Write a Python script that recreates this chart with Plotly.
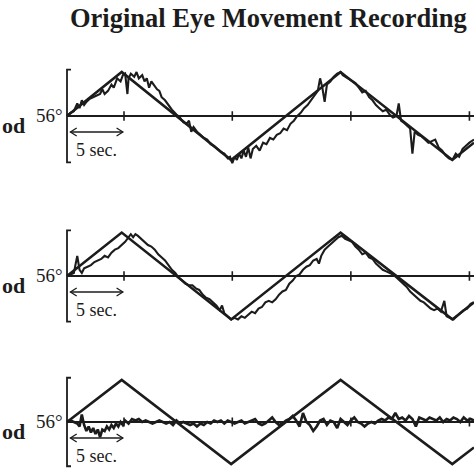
import plotly.graph_objects as go

# ---------------- data ----------------
TITLE = "Original Eye Movement Recording"
PANEL_LABEL = "od"
SCALE_LABEL = "56°"
TIME_LABEL = "5 sec."
SCALE_DEG = 29.5          # half-height of the scale bracket (deg)
TIME_BAR_SEC = [0.3, 4.9]  # extent of the "5 sec." arrow (s)

# stimulus (target) triangle wave: time (s), position (deg)
STIM_T = [0.0, 4.8, 14.4, 24.0, 33.8, 35.7]
STIM_Y = [0, 28, -28, 28, -28, -17]

# tick marks on the time axis (s)
TICK_T = [5.0, 14.5, 24.9, 35.3]

# eye recording, panel 1
EYE1_T = [0.0, 0.3, 0.6, 0.9, 1.1, 1.3, 1.5, 1.7, 2.0, 2.3, 2.6, 2.9, 3.1, 3.3, 3.6, 3.9,
          4.1, 4.4, 4.7, 4.9, 5.1, 5.3, 5.4, 5.6, 5.9, 6.1, 6.3, 6.6, 6.8, 7.0, 7.2, 7.4,
          7.6, 7.9, 8.1, 8.3, 8.6, 8.9, 9.2, 9.6, 9.9, 10.2, 10.5, 10.7, 10.9, 11.1, 11.4,
          11.7, 12.0, 12.3, 12.6, 12.9, 13.2, 13.5, 13.8, 14.1, 14.3, 14.5, 14.7, 14.9,
          15.1, 15.3, 15.5, 15.7, 15.9, 16.1, 16.3, 16.6, 16.9, 17.2, 17.5, 17.8, 18.1,
          18.4, 18.7, 19.0, 19.3, 19.6, 19.9, 20.2, 20.5, 20.8, 21.1, 21.4, 21.7, 22.0,
          22.2, 22.4, 22.6, 22.8, 23.1, 23.4, 23.7, 24.0, 24.2, 24.4, 24.7, 25.0, 25.3,
          25.6, 25.9, 26.2, 26.5, 26.8, 27.1, 27.4, 27.7, 28.0, 28.3, 28.6, 28.9, 29.1,
          29.3, 29.5, 29.8, 30.1, 30.3, 30.5, 30.8, 31.1, 31.4, 31.7, 32.0, 32.3, 32.6,
          32.9, 33.2, 33.5, 33.8, 34.1, 34.4, 34.7, 35.0, 35.3, 35.7]
EYE1_Y = [0, 2, 3, 8, 5, 10, 7, 9, 11, 12, 13, 14, 17, 14, 16, 20,
          18, 24, 22, 26, 27, 14, 24, 27, 25, 28, 24, 26, 22, 24, 18, 22,
          20, 17, 16, 12, 10, 7, 4, 1, -1, -4, -5, -3, -10, -7, -10,
          -12, -14, -15, -18, -19, -21, -23, -24, -27, -26, -30, -26, -28,
          -24, -27, -22, -26, -20, -27, -21, -19, -22, -17, -18, -14, -15,
          -12, -11, -8, -9, -5, -3, 0, 2, 5, 7, 10, 13, 16,
          24, 18, 9, 20, 22, 25, 27, 28, 26, 25, 24, 22, 21,
          18, 15, 16, 12, 10, 7, 5, 3, 4, 1, -1, 0, 8,
          -3, -4, -6, -8, -24, -10, -12, -13, -15, -17, -16, -15, -20,
          -22, -25, -27, -28, -24, -26, -21, -19, -17, -15]

# eye recording, panel 2
EYE2_T = [0.0, 0.3, 0.6, 0.9, 1.1, 1.3, 1.5, 1.8, 2.1, 2.4, 2.7, 3.0, 3.3, 3.6, 3.9,
          4.2, 4.5, 4.8, 5.1, 5.4, 5.6, 5.8, 6.0, 6.2, 6.5, 6.8, 7.1, 7.4, 7.7, 8.0,
          8.3, 8.6, 8.9, 9.2, 9.5, 9.8, 10.1, 10.4, 10.7, 11.0, 11.3, 11.6, 11.9, 12.2,
          12.5, 12.8, 13.1, 13.4, 13.6, 13.8, 14.1, 14.4, 14.7, 15.0, 15.3, 15.6, 15.9,
          16.2, 16.5, 16.8, 17.1, 17.4, 17.7, 18.0, 18.3, 18.6, 18.9, 19.2, 19.5, 19.8,
          20.1, 20.4, 20.7, 21.0, 21.3, 21.6, 21.9, 22.1, 22.3, 22.6, 22.9, 23.2, 23.5,
          23.8, 24.1, 24.4, 24.7, 25.0, 25.3, 25.6, 25.9, 26.2, 26.5, 26.8, 27.1, 27.4,
          27.7, 28.0, 28.3, 28.6, 28.9, 29.2, 29.5, 29.8, 30.1, 30.4, 30.7, 31.0, 31.3,
          31.6, 31.9, 32.2, 32.5, 32.8, 33.1, 33.3, 33.6, 33.9, 34.2, 34.5, 34.8, 35.1,
          35.4, 35.7]
EYE2_Y = [0, 1, 2, 13, 4, 2, 5, 6, 7, 9, 10, 11, 13, 12, 15,
          17, 18, 20, 22, 25, 27, 25, 27, 26, 24, 22, 20, 19, 17, 14,
          12, 10, 7, 4, 2, -1, -3, -5, -6, -6, -8, -9, -12, -14,
          -15, -17, -19, -22, -19, -24, -26, -28, -27, -28, -26, -27, -25,
          -23, -24, -21, -20, -17, -16, -17, -15, -12, -10, -9, -5, -3,
          0, 1, 4, 6, 7, 10, 11, 8, 13, 17, 19, 21, 23,
          25, 26, 24, 23, 22, 19, 17, 14, 15, 12, 11, 8, 6,
          4, 3, 2, 1, -1, -3, -5, -7, -10, -12, -14, -16, -17,
          -19, -21, -22, -21, -23, -16, -26, -27, -28, -26, -24, -22, -21,
          -18, -17]

# eye recording, panel 3
EYE3_T = [0.0, 0.3, 0.6, 0.9, 1.1, 1.3, 1.5, 1.7, 1.9, 2.1, 2.3, 2.5, 2.7, 2.9, 3.1,
          3.3, 3.5, 3.7, 3.9, 4.1, 4.3, 4.5, 4.7, 4.9, 5.1, 5.4, 5.7, 6.0, 6.3, 6.6,
          6.9, 7.2, 7.5, 7.8, 8.1, 8.4, 8.7, 9.0, 9.3, 9.6, 9.9, 10.2, 10.5, 10.8,
          11.1, 11.4, 11.7, 12.0, 12.3, 12.6, 12.9, 13.2, 13.5, 13.8, 14.1, 14.4, 14.7,
          15.0, 15.3, 15.6, 15.9, 16.2, 16.5, 16.8, 17.1, 17.4, 17.7, 18.0, 18.3, 18.6,
          18.9, 19.2, 19.5, 19.8, 20.1, 20.4, 20.7, 21.0, 21.3, 21.6, 21.9, 22.2, 22.5,
          22.8, 23.1, 23.4, 23.7, 24.0, 24.3, 24.6, 24.9, 25.2, 25.5, 25.8, 26.1, 26.4,
          26.7, 27.0, 27.3, 27.6, 27.9, 28.2, 28.5, 28.8, 29.1, 29.4, 29.7, 30.0, 30.3,
          30.6, 30.9, 31.2, 31.5, 31.8, 32.1, 32.4, 32.7, 33.0, 33.3, 33.6, 33.9, 34.2,
          34.5, 34.8, 35.1, 35.4, 35.7]
EYE3_Y = [0, 1, 0, -1, -3, 5, -2, -6, -3, -7, -4, -8, -5, -10, -5,
          -6, -3, -5, -2, -4, -1, -3, 0, -2, 1, -1, 2, 1, 2, 0,
          1, 0, -1, 0, 1, 0, -1, 0, -2, 1, -1, 0, -1, -2,
          -1, -3, -1, -2, 0, -1, 1, 0, 1, -1, 1, 0, -1,
          0, 1, -1, 0, 1, 2, -1, -2, -1, 1, 3, 0, -2,
          -1, 1, 2, 4, 1, -3, 6, 0, -2, -6, -3, 1, 2,
          -2, 1, 0, -4, 2, 0, -2, 1, 3, 0, -1, -3, -1,
          0, -1, 1, 2, 1, 3, 2, 6, 2, 3, 1, 4, 2,
          -3, 3, 2, 1, 3, 2, 1, 3, 0, 2, 1, 3, 2,
          0, 3, 1, 2, 1]

# ---------------- layout helpers ----------------
W = H = 474
LEFT_PX = 67.0
PX_PER_SEC = 11.4
Y_HALF = 34.0
# (eye t, eye y, baseline pixel, px per degree)
PANELS = [
    (EYE1_T, EYE1_Y, 116.0, 1.57),
    (EYE2_T, EYE2_Y, 276.0, 1.55),
    (EYE3_T, EYE3_Y, 422.0, 1.50),
]
INK = "#1c1c1c"
FONT = "Liberation Serif"

x_min = -LEFT_PX / PX_PER_SEC
x_max = (W - LEFT_PX) / PX_PER_SEC

fig = go.Figure()
layout = dict(
    width=W, height=H, margin=dict(l=0, r=0, t=0, b=0),
    paper_bgcolor="white", plot_bgcolor="white", showlegend=False,
    xaxis=dict(range=[x_min, x_max], domain=[0, 1], visible=False, fixedrange=True),
)
annotations = []

for i, (et, ey, base_px, s) in enumerate(PANELS):
    yname = "y" if i == 0 else f"y{i+1}"
    ykey = "yaxis" if i == 0 else f"yaxis{i+1}"
    top = base_px - Y_HALF * s
    bot = base_px + Y_HALF * s
    layout[ykey] = dict(range=[-Y_HALF, Y_HALF], domain=[1 - bot / H, 1 - top / H],
                        visible=False, anchor="x", fixedrange=True)

    serif = 0.35
    # scale bracket
    fig.add_trace(go.Scatter(
        x=[serif, 0, 0, serif], y=[SCALE_DEG, SCALE_DEG, -SCALE_DEG, -SCALE_DEG],
        mode="lines", line=dict(color=INK, width=1.8), xaxis="x", yaxis=yname,
        hoverinfo="skip"))
    # baseline
    fig.add_trace(go.Scatter(x=[0, x_max], y=[0, 0], mode="lines",
                             line=dict(color=INK, width=1.8), xaxis="x", yaxis=yname,
                             hoverinfo="skip"))
    # ticks
    tick_h = 3.0
    tx, ty = [], []
    for t in TICK_T:
        tx += [t, t, None]
        ty += [-tick_h, tick_h, None]
    fig.add_trace(go.Scatter(x=tx, y=ty, mode="lines", line=dict(color=INK, width=1.6),
                             xaxis="x", yaxis=yname, hoverinfo="skip"))
    # stimulus
    fig.add_trace(go.Scatter(x=STIM_T, y=STIM_Y, mode="lines",
                             line=dict(color=INK, width=2.6), xaxis="x", yaxis=yname,
                             hoverinfo="skip"))
    # eye recording
    fig.add_trace(go.Scatter(x=et, y=ey, mode="lines",
                             line=dict(color=INK, width=2.1 if i < 2 else 2.6),
                             xaxis="x", yaxis=yname, hoverinfo="skip"))
    # 5 sec arrow
    ay = -16.0 / s
    a0, a1 = TIME_BAR_SEC
    hl, hh = 0.55, 4.0 / s
    fig.add_trace(go.Scatter(
        x=[a0 + hl, a0, a0 + hl, None, a0, a1, None, a1 - hl, a1, a1 - hl],
        y=[ay + hh, ay, ay - hh, None, ay, ay, None, ay + hh, ay, ay - hh],
        mode="lines", line=dict(color=INK, width=1.3), xaxis="x", yaxis=yname,
        hoverinfo="skip"))

    annotations.append(dict(x=-0.2, y=0.5, xref="x", yref=yname, text=SCALE_LABEL,
                            showarrow=False, xanchor="right", yanchor="middle",
                            font=dict(family=FONT, size=19, color=INK)))
    annotations.append(dict(x=0.6, y=-34.0 / s, xref="x", yref=yname, text=TIME_LABEL,
                            showarrow=False, xanchor="left", yanchor="middle",
                            font=dict(family=FONT, size=18, color=INK)))
    annotations.append(dict(x=0.0, y=-9.0 / s, xref="paper", yref=yname,
                            text=f"<b>{PANEL_LABEL}</b>", showarrow=False,
                            xanchor="left", yanchor="middle",
                            font=dict(family=FONT, size=22, color=INK)))

annotations.append(dict(x=68.0 / W, y=1 - 1.0 / H, xref="paper", yref="paper",
                        text=f"<b>{TITLE}</b>", showarrow=False, xanchor="left",
                        yanchor="top", font=dict(family=FONT, size=26.5, color=INK)))
layout["annotations"] = annotations
fig.update_layout(**layout)
fig.write_html("out.html", config={"displayModeBar": False},
               post_script="document.body.style.margin='0';document.body.style.padding='0';")
